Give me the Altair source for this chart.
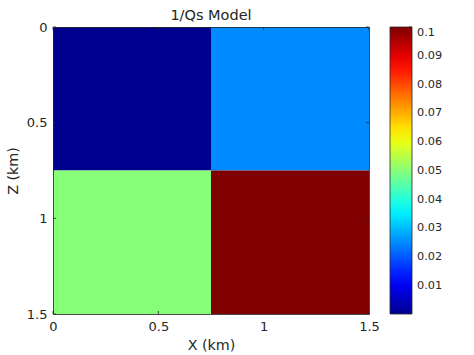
import altair as alt
import pandas as pd

# ---- data ----
x_start = [0.0, 0.75, 0.0, 0.75]
x_end = [0.75, 1.5, 0.75, 1.5]
z_start = [0.0, 0.0, 0.75, 0.75]
z_end = [0.75, 0.75, 1.5, 1.5]
inv_qs = [0.0002, 0.025, 0.05, 0.1]

axis_ticks = [0, 0.5, 1, 1.5]
cbar_ticks = [0.01, 0.02, 0.03, 0.04, 0.05, 0.06, 0.07, 0.08, 0.09, 0.1]
cmin, cmax = 0.0002, 0.1


def matlab_jet(m=64):
    n = 16
    u = [k / n for k in range(1, n + 1)] + [1.0] * (n - 1) + [k / n for k in range(n, 0, -1)]
    J = [[0.0, 0.0, 0.0] for _ in range(m)]
    for k, val in enumerate(u):
        gi = 8 + k + 1
        ri = gi + n
        bi = gi - n
        if 1 <= ri <= m:
            J[ri - 1][0] = val
        if 1 <= gi <= m:
            J[gi - 1][1] = val
        if 1 <= bi <= m:
            J[bi - 1][2] = val
    return ["#%02x%02x%02x" % tuple(round(c * 255) for c in row) for row in J]


jet = matlab_jet()

df = pd.DataFrame({"x0": x_start, "x1": x_end, "z0": z_start, "z1": z_end, "v": inv_qs})
ticks_df = pd.DataFrame({"t": axis_ticks})
cbar_df = pd.DataFrame({"c": cbar_ticks})

W, H = 316, 287
FONT = "DejaVu Sans"
TXT = "#262626"
EDGE = "#262626"

xs = alt.Scale(domain=[0, 1.5], nice=False, zero=False)
ys = alt.Scale(domain=[0, 1.5], reverse=True, nice=False, zero=False)

rects = alt.Chart(df).mark_rect(strokeWidth=0).encode(
    x=alt.X("x0:Q", scale=xs, axis=alt.Axis(
        values=axis_ticks, format=".1~f", title="X (km)", ticks=False, domain=True,
        domainColor=EDGE, domainWidth=0.8, grid=False, labelFontSize=13,
        labelColor=TXT, labelFont=FONT, labelPadding=6, titleFont=FONT,
        titleFontSize=14.3, titleFontWeight="normal", titleColor=TXT,
        titlePadding=5, zindex=1, labelFlush=False)),
    x2="x1:Q",
    y=alt.Y("z0:Q", scale=ys, axis=alt.Axis(
        values=axis_ticks, format=".1~f", title="Z (km)", ticks=False, domain=True,
        domainColor=EDGE, domainWidth=0.8, grid=False, labelFontSize=13,
        labelColor=TXT, labelFont=FONT, labelPadding=6, titleFont=FONT,
        titleFontSize=14.3, titleFontWeight="normal", titleColor=TXT,
        titlePadding=6, zindex=1, labelFlush=False)),
    y2="z1:Q",
    color=alt.Color("v:Q", scale=alt.Scale(domain=[cmin, cmax], range=jet,
                                           interpolate="rgb", nice=False, zero=False),
                    legend=alt.Legend(
                        orient="none", legendX=W + 21, legendY=0, title=None,
                        direction="vertical", gradientLength=H, gradientThickness=22,
                        values=cbar_ticks, labelFont=FONT, labelFontSize=11.3,
                        labelColor=TXT, labelOffset=5, labelOverlap=False,
                        gradientStrokeColor=EDGE, gradientStrokeWidth=0.8,
                        padding=0, format="g")),
)

xt_bottom = alt.Chart(ticks_df).mark_rule(color=EDGE, strokeWidth=0.8).encode(
    x=alt.X("t:Q", scale=xs, axis=alt.Axis(orient="top", labels=False, ticks=False,
                                           domain=True, domainColor=EDGE, domainWidth=0.8,
                                           grid=False, title=None, zindex=1,
                                           minExtent=0, maxExtent=0, offset=0)),
    y=alt.value(H), y2=alt.value(H - 3))
xt_top = alt.Chart(ticks_df).mark_rule(color=EDGE, strokeWidth=0.8).encode(
    x=alt.X("t:Q", scale=xs, axis=None),
    y=alt.value(0), y2=alt.value(3))
yt_left = alt.Chart(ticks_df).mark_rule(color=EDGE, strokeWidth=0.8).encode(
    y=alt.Y("t:Q", scale=ys, axis=alt.Axis(orient="right", labels=False, ticks=False,
                                           domain=True, domainColor=EDGE, domainWidth=0.8,
                                           grid=False, title=None, zindex=1,
                                           minExtent=0, maxExtent=0, offset=0)),
    x=alt.value(0), x2=alt.value(3))
yt_right = alt.Chart(ticks_df).mark_rule(color=EDGE, strokeWidth=0.8).encode(
    y=alt.Y("t:Q", scale=ys, axis=None),
    x=alt.value(W - 3), x2=alt.value(W))
cb_ticks = alt.Chart(cbar_df).mark_rule(color=EDGE, strokeWidth=0.8).encode(
    y=alt.Y("c:Q", scale=alt.Scale(domain=[cmin, cmax], nice=False, zero=False), axis=None),
    x=alt.value(W + 21 + 22 - 3), x2=alt.value(W + 21 + 22))

chart = alt.layer(rects, xt_bottom, xt_top, yt_left, yt_right, cb_ticks).resolve_scale(
    y="independent").resolve_axis(x="independent", y="independent").properties(
    width=W, height=H,
    title=alt.TitleParams("1/Qs Model", font=FONT, fontSize=14.5, fontWeight="normal",
                          color=TXT, anchor="middle", baseline="alphabetic", offset=6,
                          dy=19),
    autosize=alt.AutoSizeParams(type="none"),
    padding={"left": 53, "top": 27, "right": 474 - 53 - W, "bottom": 355 - 27 - H},
).configure_view(stroke=None).configure(background="white")

chart.save("out.html", embed_options={"renderer": "svg", "actions": False})
